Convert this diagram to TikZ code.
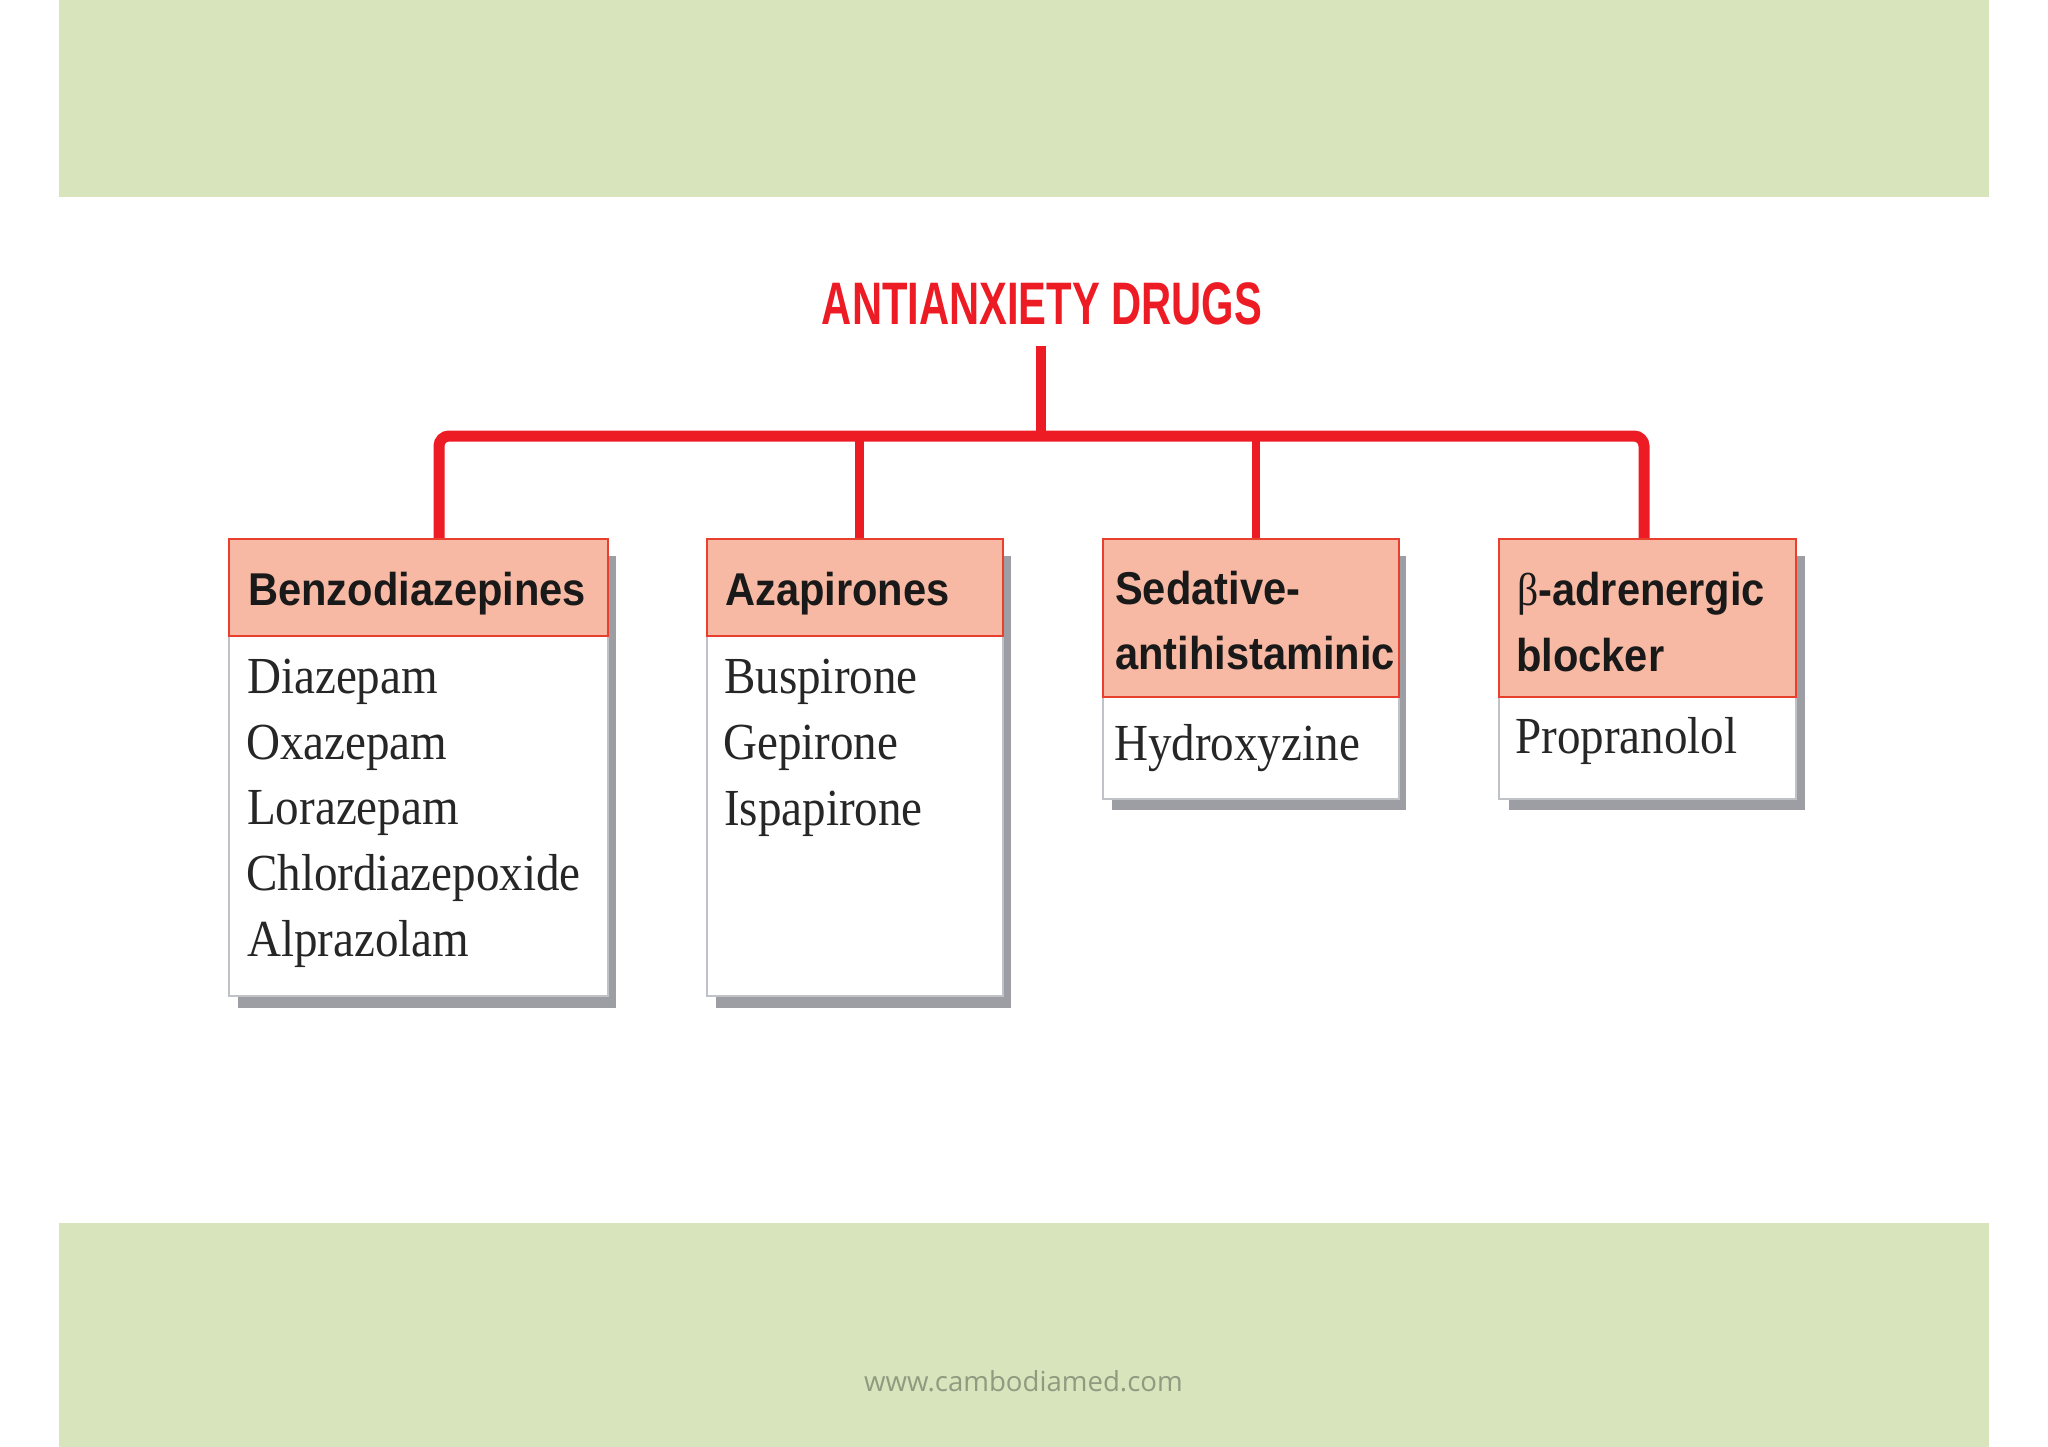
\documentclass[tikz,border=0pt]{standalone}
\usepackage{fontspec}
\usepackage{graphicx}
\setmainfont{Liberation Serif}
\setsansfont{Liberation Sans}
\newfontfamily\footfont{Open Sans}
\definecolor{band}{HTML}{D8E4BC}
\definecolor{hdrfill}{HTML}{F7B9A3}
\definecolor{hdredge}{HTML}{E8402F}
\definecolor{linkred}{HTML}{ED1C24}
\definecolor{shade}{HTML}{9C9EA3}
\definecolor{bodyedge}{HTML}{BFC3C8}
\definecolor{foot}{HTML}{8F9A80}
\newcommand{\Hd}[1]{\scalebox{.905}[1]{#1}}
\newcommand{\Bd}[1]{\scalebox{.905}[1]{#1}}
\tikzset{
 bandrect/.style={fill=band,draw=none},
 shadowbox/.style={fill=shade,draw=none},
 bodybox/.style={fill=white,draw=bodyedge,line width=2.5pt},
 headbox/.style={fill=hdrfill,draw=hdredge,line width=2.8pt},
 headtext/.style={anchor=base west,inner sep=0pt,font=\sffamily\bfseries\fontsize{46}{52}\selectfont,text=black!90},
 bodytext/.style={anchor=base west,inner sep=0pt,font=\rmfamily\fontsize{52}{58}\selectfont,text=black!85},
 linkline/.style={draw=linkred,line width=8.5pt},
 barline/.style={draw=linkred,line width=11pt,rounded corners=10pt},
}
\begin{document}
\begin{tikzpicture}[x=1pt,y=-1pt]
\useasboundingbox (0,0) rectangle (2048,1447);
% bands
\fill[bandrect] (59,0) rectangle (1989,197);
\fill[bandrect] (59,1223) rectangle (1989,1447);
% connectors
\coordinate (stem) at (1041,346);
\coordinate (barmid) at (1041,436);
\coordinate (j1) at (439,541);
\coordinate (j2) at (859.5,541);
\coordinate (j3) at (1256,541);
\coordinate (j4) at (1644,541);
\draw[barline] (j1) |- (barmid) -| (j4);
\draw[linkline,line width=10pt] (stem) -- (barmid);
\draw[linkline] (j2) -- (j2 |- barmid);
\draw[linkline] (j3) -- (j3 |- barmid);
% box 1
\fill[shadowbox] (238,556) rectangle (616,1008);
\draw[bodybox] (229,636) rectangle (608,996);
\draw[headbox] (229,539) rectangle (608,636);
% box 2
\fill[shadowbox] (716,556) rectangle (1011,1008);
\draw[bodybox] (707,636) rectangle (1003,996);
\draw[headbox] (707,539) rectangle (1003,636);
% box 3
\fill[shadowbox] (1112,556) rectangle (1406,810);
\draw[bodybox] (1103,697) rectangle (1399,799);
\draw[headbox] (1103,539) rectangle (1399,697);
% box 4
\fill[shadowbox] (1509,556) rectangle (1805,810);
\draw[bodybox] (1499,697) rectangle (1796,799);
\draw[headbox] (1499,539) rectangle (1796,697);
% title
\node[anchor=base,inner sep=0pt,text=linkred,font=\sffamily\bfseries\fontsize{60}{66}\selectfont] (title) at (1042,325) {\scalebox{.695}[1]{ANTIANXIETY DRUGS}};
% headers
\node[headtext] (h1) at (248,605) {\Hd{Benzodiazepines}};
\node[headtext] (h2) at (725,605) {\Hd{Azapirones}};
\node[headtext] (h3a) at (1115,604) {\Hd{Sedative-}};
\node[headtext] (h3b) at (1115,669) {\Hd{antihistaminic}};
\node[headtext] (h4a) at (1517,605) {\Hd{{\rmfamily\mdseries β}-adrenergic}};
\node[headtext] (h4b) at (1516,671) {\Hd{blocker}};
% bodies
\node[bodytext] (b1a) at (247,693) {\Bd{Diazepam}};
\node[bodytext] (b1b) at (246,759) {\Bd{Oxazepam}};
\node[bodytext] (b1c) at (247,824) {\Bd{Lorazepam}};
\node[bodytext] (b1d) at (246,890) {\Bd{Chlordiazepoxide}};
\node[bodytext] (b1e) at (247,956) {\Bd{Alprazolam}};
\node[bodytext] (b2a) at (724,693) {\Bd{Buspirone}};
\node[bodytext] (b2b) at (723,759) {\Bd{Gepirone}};
\node[bodytext] (b2c) at (724,825) {\Bd{Ispapirone}};
\node[bodytext] (b3a) at (1114,760) {\Bd{Hydroxyzine}};
\node[bodytext] (b4a) at (1515,753) {\Bd{Propranolol}};
% footer
\node[anchor=base,inner sep=0pt,text=foot,font=\footfont\fontsize{27.6}{32}\selectfont] (url) at (1023.5,1391) {www.cambodiamed.com};
\end{tikzpicture}
\end{document}
